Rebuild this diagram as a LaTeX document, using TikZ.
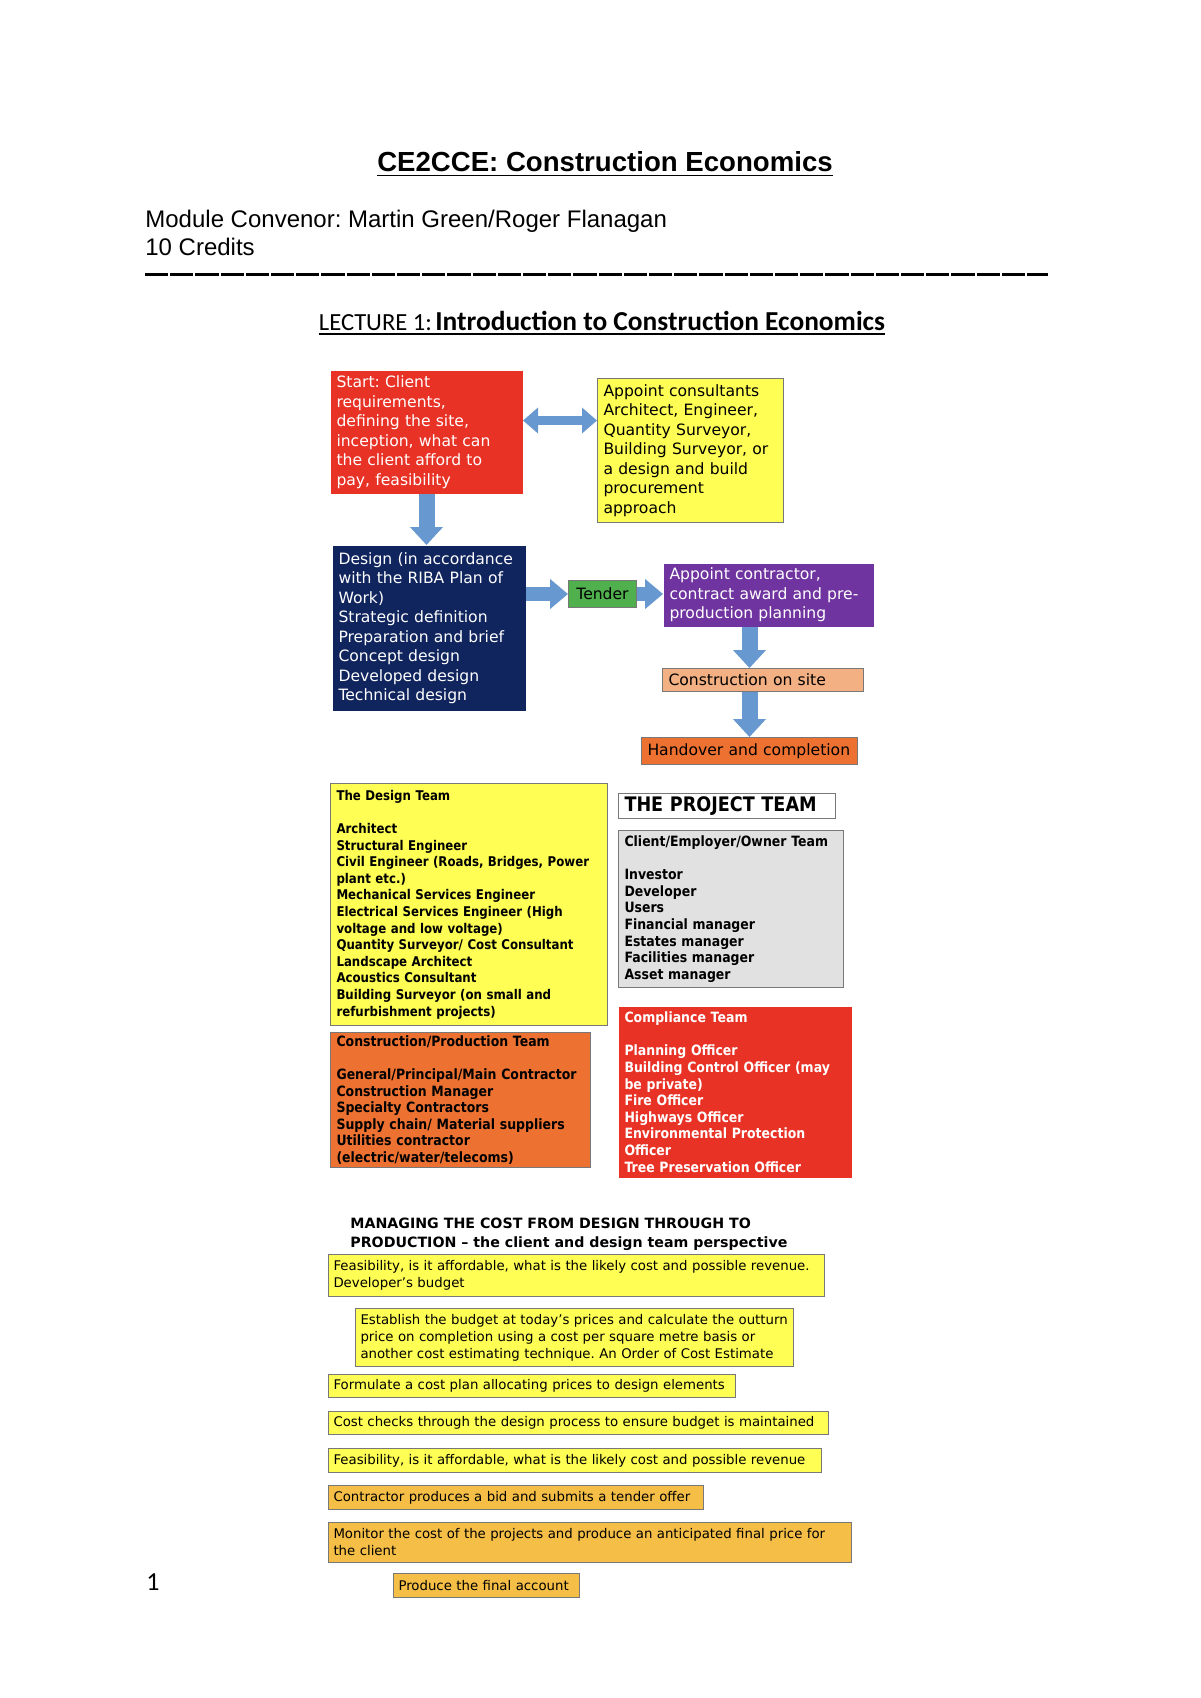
\documentclass[tikz,border=0pt]{standalone}
\usepackage{fontspec}
\setmainfont{DejaVu Sans}
\newfontfamily\arialfont{Liberation Sans}
\newfontfamily\calfont{Carlito}
\newfontfamily\condfont[FakeStretch=0.88]{DejaVu Sans}
\usetikzlibrary{arrows.meta}
\frenchspacing
\definecolor{cred}{RGB}{233,50,38}
\definecolor{cyellow}{RGB}{254,254,84}
\definecolor{cnavy}{RGB}{16,36,94}
\definecolor{cgreen}{RGB}{80,176,78}
\definecolor{cpurple}{RGB}{112,52,160}
\definecolor{cpeach}{RGB}{243,176,130}
\definecolor{corange}{RGB}{237,114,50}
\definecolor{cgray}{RGB}{225,225,225}
\definecolor{cgold}{RGB}{245,190,70}
\definecolor{cblue}{RGB}{104,152,208}
\definecolor{cedge}{RGB}{120,120,120}
\tikzset{
  box/.style={anchor=north west, inner xsep=3pt, inner ysep=1.5pt, align=left, line width=0.5pt},
  flow/.style={box, font=\fontsize{7.8}{9.75}\selectfont},
  team/.style={box, font=\condfont\bfseries\fontsize{7.1}{8.3}\selectfont},
  cost/.style={box, inner xsep=2.5pt, font=\fontsize{6.65}{8.5}\selectfont, draw=cedge, fill=cyellow},
  gold/.style={cost, fill=cgold},
  plain/.style={inner sep=0pt},
  vblock/.style={line width=8pt, cblue, -{Triangle[width=16pt,length=9pt]}},
  hblock/.style={line width=7pt, cblue, -{Triangle[width=14.5pt,length=9pt]}},
  dblock/.style={line width=4.5pt, cblue, {Triangle[width=12.5pt,length=7.5pt]}-{Triangle[width=12.5pt,length=7.5pt]}},
  uline/.style={line width=0.9pt}
}
\begin{document}
\frenchspacing
\begin{tikzpicture}[x=0.5pt,y=-0.5pt]
\useasboundingbox (0,0) rectangle (1200,1698);
\fill[white] (0,0) rectangle (1200,1698);

% Header
\node[plain, anchor=base, font=\arialfont\bfseries\fontsize{13.8}{16}\selectfont] (title) at (605,171) {CE2CCE: Construction Economics};
\draw[uline] ([yshift=-2.2pt]title.base west) -- ([yshift=-2.2pt]title.base east);
\node[plain, anchor=base west, font=\arialfont\fontsize{12}{14}\selectfont] (conv) at (145,227) {Module Convenor: Martin Green/Roger Flanagan};
\node[plain, anchor=base west, font=\arialfont\fontsize{12}{14}\selectfont] (credits) at (145,255) {10 Credits};
\draw[line width=1.5pt, dash pattern=on 11.6pt off 1pt] (145,274) -- (1048,274);
\node[plain, anchor=base] (lect) at (602,330) {{\calfont\fontsize{12.3}{14}\selectfont LECTURE 1:}\,{\calfont\bfseries\fontsize{13.7}{16}\selectfont Introduction to Construction Economics}};
\draw[uline, line width=0.7pt] ([yshift=-2pt]lect.base west) -- ([yshift=-2pt]lect.base east);

% Flow chart
\node[flow, fill=cred, text=white, text width=90pt, minimum height=61.5pt] (start) at (330,370)
 {Start: Client\\requirements,\\defining the site,\\inception, what can\\the client afford to\\pay, feasibility};
\node[flow, fill=cyellow, draw=cedge, text width=87pt, minimum height=72pt] (consult) at (597,378)
 {Appoint consultants\\Architect, Engineer,\\Quantity Surveyor,\\Building Surveyor, or\\a design and build\\procurement\\approach};
\node[flow, fill=cnavy, text=white, text width=90.5pt, minimum height=82.5pt] (design) at (332,545)
 {Design (in accordance\\with the RIBA Plan of\\Work)\\Strategic definition\\Preparation and brief\\Concept design\\Developed design\\Technical design};
\node[flow, fill=cgreen, draw=cedge, align=center, minimum width=34pt, minimum height=13.5pt, inner xsep=2pt] (tender) at (568,580) {Tender};
\node[flow, fill=cpurple, text=white, text width=99pt, minimum height=31.5pt] (contractor) at (663,563)
 {Appoint contractor,\\contract award and pre-\\production planning};
\node[flow, fill=cpeach, draw=cedge, text width=94.5pt, minimum height=11.5pt] (site) at (662,668) {Construction on site};
\node[flow, fill=corange, draw=cedge, text width=102pt, minimum height=13.5pt] (handover) at (641,737) {Handover and completion};

\draw[dblock] ([yshift=5.75pt]start.east) -- ([yshift=5.75pt]start.east -| consult.west);
\draw[vblock] (start.south) -- (start.south |- design.north);
\draw[hblock] (design.east |- tender.west) -- (tender.west);
\draw[hblock] (tender.east) -- (tender.east -| contractor.west);
\draw[vblock] (handover.north |- contractor.south) -- (handover.north |- site.north);
\draw[vblock] (handover.north |- site.south) -- (handover.north);

% Project team
\node[team, font=\condfont\bfseries\fontsize{6.7}{8.3}\selectfont, fill=cyellow, draw=cedge, text width=132.5pt, minimum height=121pt] (designteam) at (330,783)
 {The Design Team\\[8.3pt]Architect\\Structural Engineer\\Civil Engineer (Roads, Bridges, Power\\plant etc.)\\Mechanical Services Engineer\\Electrical Services Engineer (High\\voltage and low voltage)\\Quantity Surveyor/ Cost Consultant\\Landscape Architect\\Acoustics Consultant\\Building Surveyor (on small and\\refurbishment projects)};
\node[box, fill=white, draw=cedge, font=\condfont\bfseries\fontsize{10}{12}\selectfont, text width=102.5pt, minimum height=12.5pt, inner ysep=0.5pt] (projtitle) at (618,793) {THE PROJECT TEAM};
\node[team, fill=cgray, draw=cedge, text width=106.5pt, minimum height=78.5pt] (client) at (618,830)
 {Client/Employer/Owner Team\\[8.3pt]Investor\\Developer\\Users\\Financial manager\\Estates manager\\Facilities manager\\Asset manager};
\node[team, fill=corange, draw=cedge, text width=124pt, minimum height=67.5pt] (conteam) at (330,1032)
 {Construction/Production Team\\[8.3pt]General/Principal/Main Contractor\\Construction Manager\\Specialty Contractors\\Supply chain/ Material suppliers\\Utilities contractor\\(electric/water/telecoms)};
\node[team, fill=cred, text=white, text width=110.5pt, minimum height=85.5pt] (compliance) at (618,1006)
 {Compliance Team\\[8.3pt]Planning Officer\\Building Control Officer (may\\be private)\\Fire Officer\\Highways Officer\\Environmental Protection\\Officer\\Tree Preservation Officer};

% Managing the cost
\node[plain, anchor=base west, font=\bfseries\fontsize{7.1}{9.5}\selectfont] (mt1) at (350,1228) {MANAGING THE COST FROM DESIGN THROUGH TO};
\node[plain, anchor=base west, font=\bfseries\fontsize{7.1}{9.5}\selectfont] (mt2) at (350,1247) {PRODUCTION – the client and design team perspective};

\node[cost, text width=243pt, minimum height=21pt] (c1) at (328,1254)
 {Feasibility, is it affordable, what is the likely cost and possible revenue.\\Developer’s budget};
\node[cost, text width=214pt, minimum height=29pt] (c2) at (355,1308)
 {Establish the budget at today’s prices and calculate the outturn\\price on completion using a cost per square metre basis or\\another cost estimating technique. An Order of Cost Estimate};
\node[cost, text width=198.5pt, minimum height=11.5pt] (c3) at (328,1374) {Formulate a cost plan allocating prices to design elements};
\node[cost, text width=245pt, minimum height=11.5pt] (c4) at (328,1411) {Cost checks through the design process to ensure budget is maintained};
\node[cost, text width=241.5pt, minimum height=12pt] (c5) at (328,1448) {Feasibility, is it affordable, what is the likely cost and possible revenue};
\node[gold, text width=182.5pt, minimum height=12pt] (c6) at (328,1485) {Contractor produces a bid and submits a tender offer};
\node[gold, text width=256.5pt, minimum height=20pt] (c7) at (328,1522)
 {Monitor the cost of the projects and produce an anticipated final price for\\the client};
\node[gold, text width=88pt, minimum height=12pt] (c8) at (393,1573) {Produce the final account};

\node[plain, anchor=base west, font=\calfont\fontsize{13}{15}\selectfont] (pnum) at (146,1590) {1};
\end{tikzpicture}
\end{document}
